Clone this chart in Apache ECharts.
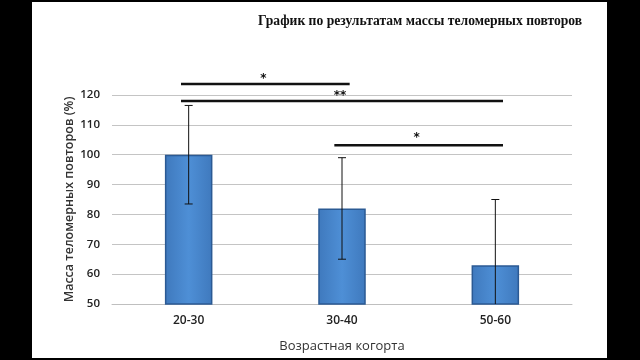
<!DOCTYPE html>
<html><head><meta charset="utf-8">
<script src="https://cdn.jsdelivr.net/npm/echarts@6/dist/echarts.min.js"></script>
<style>
html,body{margin:0;padding:0;background:#000;width:640px;height:360px;overflow:hidden}
#paper{position:absolute;left:32px;top:2px;width:575px;height:356px;background:#fff}
#chart{position:absolute;left:0;top:0;width:640px;height:360px}
</style></head>
<body><div id="paper"></div><div id="chart"></div>
<script>
const categories = ['20-30', '30-40', '50-60'];
const values = [100, 82, 63];
const errors = [16.5, 17, 22];
const yTicks = {min: 50, max: 120, interval: 10};
// significance brackets: [from, to, level, label]
const brackets = [
  [0.45, 1.55, 123.7, '*'],
  [0.45, 2.55, 118, '**'],
  [1.45, 2.55, 103.2, '*']
];

const chart = echarts.init(document.getElementById('chart'), null, {renderer: 'canvas'});
const errData = values.map((v, i) => [i, v - errors[i], v + errors[i]]);

chart.setOption({
  backgroundColor: 'transparent',
  animation: false,
  title: {
    text: 'График по результатам массы теломерных повторов',
    left: 253, top: 9,
    textStyle: {fontFamily: 'Liberation Serif', fontWeight: 'bold', fontSize: 13.6, color: '#111'}
  },
  grid: {left: 112, right: 68, top: 95, bottom: 56},
  xAxis: [{
    type: 'category',
    data: categories,
    name: 'Возрастная когорта',
    nameLocation: 'middle',
    nameGap: 36,
    nameMoveOverlap: false,
    nameTextStyle: {fontFamily: 'Open Sans', fontSize: 13, color: '#333'},
    axisLine: {lineStyle: {color: '#bfbfbf', width: 1}},
    axisTick: {show: false},
    axisLabel: {fontFamily: 'Open Sans', fontWeight: 600, fontSize: 12, color: '#222', margin: 11}
  }, {
    type: 'value', min: 0, max: 3, show: false
  }],
  yAxis: {
    type: 'value',
    min: yTicks.min, max: yTicks.max, interval: yTicks.interval,
    name: 'Масса теломерных повторов (%)',
    nameLocation: 'middle',
    nameGap: 36,
    nameMoveOverlap: false,
    nameTextStyle: {fontFamily: 'Open Sans', fontWeight: 600, fontSize: 12.5, color: '#333'},
    axisLine: {show: false},
    axisTick: {show: false},
    axisLabel: {fontFamily: 'Open Sans', fontWeight: 600, fontSize: 11.5, color: '#222', margin: 12},
    splitLine: {lineStyle: {color: '#c4c4c4', width: 1}}
  },
  series: [{
    type: 'bar',
    data: values,
    barWidth: '31%',
    itemStyle: {
      color: new echarts.graphic.LinearGradient(0, 0, 1, 0, [
        {offset: 0, color: '#3f79bd'},
        {offset: 0.5, color: '#4e8fd6'},
        {offset: 1, color: '#3f79bd'}
      ]),
      borderColor: '#2b5a94',
      borderWidth: 1.5
    },
    z: 2
  }, {
    type: 'custom',
    data: errData,
    clip: true,
    z: 5,
    renderItem: function (params, api) {
      const x = api.value(0);
      const lo = api.coord([x, api.value(1)]);
      const hi = api.coord([x, api.value(2)]);
      const w = 4;
      const st = {stroke: '#111', lineWidth: 1};
      return {type: 'group', children: [
        {type: 'line', shape: {x1: lo[0], y1: lo[1], x2: hi[0], y2: hi[1]}, style: st},
        {type: 'line', shape: {x1: lo[0] - w, y1: lo[1], x2: lo[0] + w, y2: lo[1]}, style: st},
        {type: 'line', shape: {x1: hi[0] - w, y1: hi[1], x2: hi[0] + w, y2: hi[1]}, style: st}
      ]};
    }
  }, {
    type: 'custom',
    xAxisIndex: 1,
    data: brackets,
    clip: false,
    z: 6,
    renderItem: function (params, api) {
      const a = api.coord([api.value(0), api.value(2)]);
      const b = api.coord([api.value(1), api.value(2)]);
      const label = brackets[params.dataIndex][3];
      const lift = params.dataIndex === 2 ? 7 : 5;
      return {type: 'group', children: [
        {type: 'line', shape: {x1: a[0], y1: a[1], x2: b[0], y2: b[1]}, style: {stroke: '#111', lineWidth: 2.5}},
        {type: 'text', x: (a[0] + b[0]) / 2 - 2, y: a[1] - lift, style: {
          text: label, fill: '#111', font: 'bold 12px "DejaVu Sans"', align: 'center', verticalAlign: 'middle'
        }}
      ]};
    }
  }]
});
</script></body></html>
